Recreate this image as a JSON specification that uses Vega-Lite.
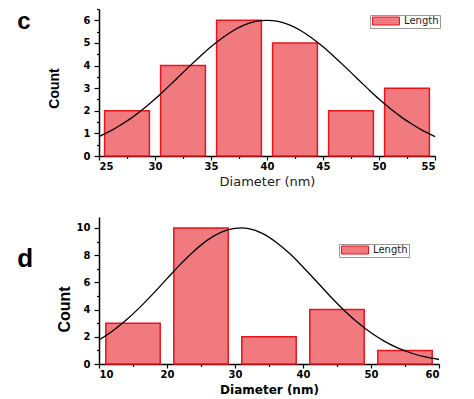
{
  "$schema": "https://vega.github.io/schema/vega-lite/v6.json",
  "padding": {"left": 17, "top": 8, "right": 0, "bottom": 0},
  "background": "white",
  "spacing": 29,
  "columns": 1,
  "align": "none",
  "datasets": {
    "barsC": [
      {"start": 25.5, "end": 29.5, "count": 2},
      {"start": 30.5, "end": 34.5, "count": 4},
      {"start": 35.5, "end": 39.5, "count": 6},
      {"start": 40.5, "end": 44.5, "count": 5},
      {"start": 45.5, "end": 49.5, "count": 2},
      {"start": 50.5, "end": 54.5, "count": 3}
    ],
    "fitC": [
      {"d": 25, "n": 0.86}, {"d": 26, "n": 1.10}, {"d": 27, "n": 1.39}, {"d": 28, "n": 1.72},
      {"d": 29, "n": 2.10}, {"d": 30, "n": 2.52}, {"d": 31, "n": 2.98}, {"d": 32, "n": 3.45},
      {"d": 33, "n": 3.93}, {"d": 34, "n": 4.39}, {"d": 35, "n": 4.83}, {"d": 36, "n": 5.22},
      {"d": 37, "n": 5.55}, {"d": 38, "n": 5.80}, {"d": 39, "n": 5.95}, {"d": 40, "n": 6.00},
      {"d": 41, "n": 5.95}, {"d": 42, "n": 5.80}, {"d": 43, "n": 5.55}, {"d": 44, "n": 5.22},
      {"d": 45, "n": 4.83}, {"d": 46, "n": 4.39}, {"d": 47, "n": 3.93}, {"d": 48, "n": 3.45},
      {"d": 49, "n": 2.98}, {"d": 50, "n": 2.52}, {"d": 51, "n": 2.10}, {"d": 52, "n": 1.72},
      {"d": 53, "n": 1.39}, {"d": 54, "n": 1.10}, {"d": 55, "n": 0.86}
    ],
    "barsD": [
      {"start": 11, "end": 19, "count": 3},
      {"start": 21, "end": 29, "count": 10},
      {"start": 31, "end": 39, "count": 2},
      {"start": 41, "end": 49, "count": 4},
      {"start": 51, "end": 59, "count": 1}
    ],
    "fitD": [
      {"d": 10, "n": 1.77}, {"d": 12, "n": 2.43}, {"d": 14, "n": 3.23}, {"d": 16, "n": 4.16},
      {"d": 18, "n": 5.19}, {"d": 20, "n": 6.27}, {"d": 22, "n": 7.34}, {"d": 24, "n": 8.31},
      {"d": 26, "n": 9.12}, {"d": 28, "n": 9.69}, {"d": 30, "n": 9.97}, {"d": 31, "n": 10.0},
      {"d": 32, "n": 9.94}, {"d": 34, "n": 9.60}, {"d": 36, "n": 8.97}, {"d": 38, "n": 8.13},
      {"d": 40, "n": 7.13}, {"d": 42, "n": 6.06}, {"d": 44, "n": 4.98}, {"d": 46, "n": 3.97},
      {"d": 48, "n": 3.06}, {"d": 50, "n": 2.29}, {"d": 52, "n": 1.66}, {"d": 54, "n": 1.16},
      {"d": 56, "n": 0.79}, {"d": 58, "n": 0.52}, {"d": 60, "n": 0.33}
    ]
  },
  "config": {
    "view": {"stroke": null},
    "axis": {
      "domainColor": "black", "domainWidth": 1.5, "tickColor": "black", "tickWidth": 1.2,
      "labelFont": "DejaVu Sans", "labelFontWeight": "bold", "labelFontSize": 10, "labelColor": "black",
      "grid": false
    },
    "title": {"font": "Liberation Sans", "fontWeight": "bold", "color": "black"}
  },
  "resolve": {"scale": {"color": "independent"}, "legend": {"color": "independent"}},
  "concat": [
    {
      "width": 336, "height": 147,
      "title": {"text": "c", "orient": "left", "anchor": "end", "angle": 0, "baseline": "top", "align": "right", "fontSize": 24, "offset": 3, "dy": 2},
      "resolve": {"axis": {"x": "independent", "y": "independent"}},
      "layer": [
        {
          "data": {"name": "barsC"},
          "mark": {"type": "bar", "stroke": "#e8141c", "strokeWidth": 1.5},
          "encoding": {
            "x": {"field": "start", "type": "quantitative", "scale": {"domain": [25, 55], "nice": false, "zero": false},
                  "axis": {"values": [25, 30, 35, 40, 45, 50, 55], "tickSize": 4, "labelPadding": 1, "title": "Diameter (nm)", "titleFont": "DejaVu Sans", "titleFontWeight": "normal", "titleFontSize": 13, "titleColor": "#222", "titlePadding": 4}},
            "x2": {"field": "end"},
            "y": {"field": "count", "type": "quantitative", "scale": {"domain": [0, 6.5], "nice": false},
                  "axis": {"values": [0, 1, 2, 3, 4, 5, 6], "tickSize": 5, "labelPadding": 4, "title": "Count", "titleFont": "Liberation Sans", "titleFontWeight": "bold", "titleFontSize": 14, "titleColor": "black", "titlePadding": 22, "titleY": 79}},
            "y2": {"datum": 0},
            "color": {"datum": "Length", "scale": {"range": ["#f07a7e"]},
                      "legend": {"title": null, "orient": "none", "legendX": 271, "legendY": 6, "labelExpr": "datum.label + '   '", "symbolType": "M-3.375,-1H3.375V1H-3.375Z", "symbolSize": 64, "symbolStrokeColor": "#e8141c", "symbolStrokeWidth": 1, "symbolOpacity": 1, "symbolOffset": 10, "labelOffset": 13, "labelFont": "DejaVu Sans", "labelFontSize": 10, "labelColor": "#222", "strokeColor": "#999", "padding": 1}}
          }
        },
        {
          "data": {"name": "fitC"},
          "mark": {"type": "line", "color": "black", "strokeWidth": 1.3, "interpolate": "monotone"},
          "encoding": {
            "x": {"field": "d", "type": "quantitative", "axis": {"orient": "bottom", "values": [27.5, 32.5, 37.5, 42.5, 47.5, 52.5], "labels": false, "domain": false, "tickSize": 2.5, "title": null}},
            "y": {"field": "n", "type": "quantitative", "axis": {"orient": "left", "values": [0.5, 1.5, 2.5, 3.5, 4.5, 5.5, 6.5], "labels": false, "domain": false, "tickSize": 2.5, "title": null}}
          }
        }
      ]
    },
    {
      "width": 340, "height": 147,
      "title": {"text": "d", "orient": "left", "anchor": "end", "angle": 0, "baseline": "top", "align": "right", "fontSize": 26, "offset": 7, "dy": 29},
      "resolve": {"axis": {"x": "independent", "y": "independent"}},
      "layer": [
        {
          "data": {"name": "barsD"},
          "mark": {"type": "bar", "stroke": "#e8141c", "strokeWidth": 1.5},
          "encoding": {
            "x": {"field": "start", "type": "quantitative", "scale": {"domain": [10, 60], "nice": false, "zero": false},
                  "axis": {"values": [10, 20, 30, 40, 50, 60], "tickSize": 4, "labelPadding": 1, "title": "Diameter (nm)", "titleFont": "DejaVu Sans", "titleFontWeight": "bold", "titleFontSize": 12, "titleColor": "black", "titlePadding": 5}},
            "x2": {"field": "end"},
            "y": {"field": "count", "type": "quantitative", "scale": {"domain": [0, 10.8], "nice": false},
                  "axis": {"values": [0, 2, 4, 6, 8, 10], "tickSize": 5, "labelPadding": 4, "title": "Count", "titleFont": "Liberation Sans", "titleFontWeight": "bold", "titleFontSize": 16, "titleColor": "black", "titlePadding": 4, "titleY": 92}},
            "y2": {"datum": 0},
            "color": {"datum": "Length", "scale": {"range": ["#f07a7e"]},
                      "legend": {"title": null, "orient": "none", "legendX": 240, "legendY": 27, "labelExpr": "datum.label + '   '", "symbolType": "M-3.375,-1H3.375V1H-3.375Z", "symbolSize": 64, "symbolStrokeColor": "#e8141c", "symbolStrokeWidth": 1, "symbolOpacity": 1, "symbolOffset": 10, "labelOffset": 13, "labelFont": "DejaVu Sans", "labelFontSize": 10, "labelColor": "#222", "strokeColor": "#999", "padding": 1}}
          }
        },
        {
          "data": {"name": "fitD"},
          "mark": {"type": "line", "color": "black", "strokeWidth": 1.3, "interpolate": "monotone"},
          "encoding": {
            "x": {"field": "d", "type": "quantitative", "axis": {"orient": "bottom", "values": [15, 25, 35, 45, 55], "labels": false, "domain": false, "tickSize": 2.5, "title": null}},
            "y": {"field": "n", "type": "quantitative", "axis": {"orient": "left", "values": [1, 3, 5, 7, 9], "labels": false, "domain": false, "tickSize": 2.5, "title": null}}
          }
        }
      ]
    }
  ]
}
